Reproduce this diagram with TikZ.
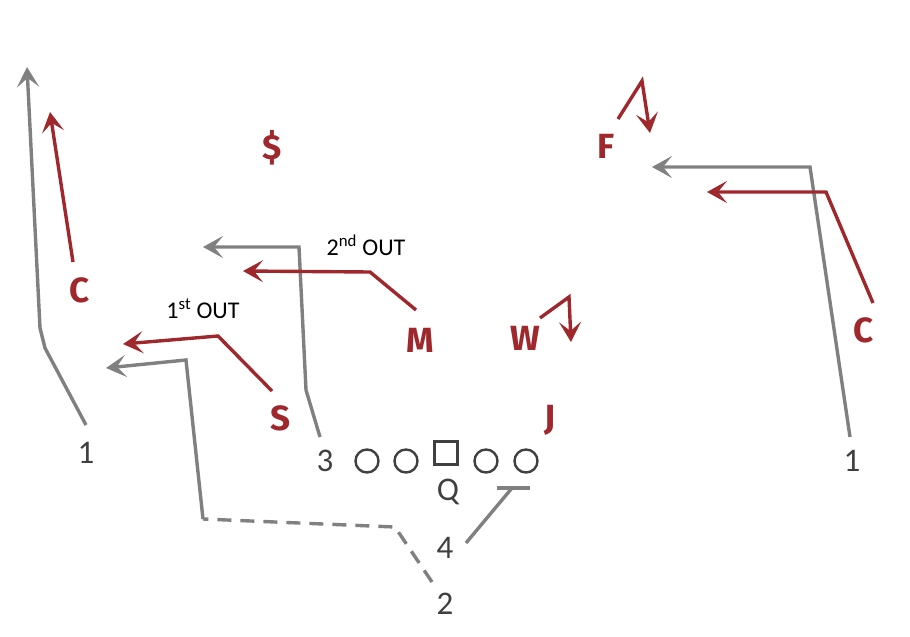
\documentclass[tikz,border=0pt]{standalone}
\usepackage{fontspec}
\setmainfont{Carlito}
\newfontfamily\deffont{Fira Sans}
\usetikzlibrary{arrows.meta}
\definecolor{dred}{RGB}{158,40,44}
\definecolor{lgray}{RGB}{128,128,128}
\definecolor{dtext}{RGB}{64,64,64}
\tikzset{
  route/.style={draw=lgray,line width=3.4pt,line join=miter},
  droute/.style={draw=dred,line width=3.4pt,line join=miter},
  tip/.style={-{Stealth[length=20pt,width=22pt,inset=9pt]}},
  deflab/.style={text=dred,font=\deffont\bfseries\fontsize{35}{35}\selectfont,inner sep=0pt},
  offlab/.style={text=dtext,font=\fontsize{33}{33}\selectfont,inner sep=0pt},
  outlab/.style={text=black,font=\fontsize{24}{24}\selectfont,inner sep=0pt},
  lineman/.style={circle,draw=dtext,line width=2.4pt,minimum size=23pt,inner sep=0pt},
  center/.style={rectangle,draw=dtext,line width=2.4pt,minimum size=23pt,inner sep=0pt}
}
\begin{document}
\begin{tikzpicture}[x=1pt,y=-1pt]
\useasboundingbox (0,0) rectangle (910,637);
% offense labels
\node[offlab] (wr1) at (86,453) {1};
\node[offlab] (wr3) at (325,461) {3};
\node[offlab] (rb2) at (445,604) {2};
\node[offlab] (rb4) at (445,548) {4};
\node[offlab] (q) at (448,492) {Q};
\node[offlab] (wr1r) at (852,461) {1};
% line
\node[lineman] (lt) at (367,461) {};
\node[lineman] (lg) at (406,461) {};
\node[center] (ce) at (446,453) {};
\node[lineman] (rg) at (486,461) {};
\node[lineman] (rt) at (526,461) {};
% defense labels
\node[deflab] (cl) at (80,290) {C};
\node[deflab] (ss) at (272,148) {\$};
\node[deflab] (sl) at (281,418) {S};
\node[deflab] (ml) at (420,340) {M};
\node[deflab] (wl) at (525,338) {W};
\node[deflab] (jl) at (550,420) {J};
\node[deflab] (fl) at (606,146) {F};
\node[deflab] (cr) at (864,330) {C};
% out labels
\node[outlab] (out1) at (203,309) {1\textsuperscript{st} OUT};
\node[outlab] (out2) at (366,245) {2\textsuperscript{nd} OUT};
% coordinates
\coordinate (a1) at (86,425);
\coordinate (a1e) at (27,67);
\coordinate (a3) at (320,437);
\coordinate (a3e) at (203,247);
\coordinate (a2) at (432,582);
\coordinate (a2b) at (203,519);
\coordinate (a2e) at (106,368);
\coordinate (a1r) at (850,437);
\coordinate (a1re) at (652,167);
% offense routes
\draw[route,tip] (a1) -- (45,348) -- (40,328) -- (a1e);
\draw[route,tip] (a3) -- (306,390) -- (299,247) -- (a3e);
\draw[route,dash pattern=on 14pt off 9pt] (a2) -- (395,527) -- (a2b);
\draw[route,tip] (a2b) -- (186,360) -- (a2e);
\draw[route,tip] (a1r) -- (810,167) -- (a1re);
\draw[route] (466,543) -- (512,488);
\draw[route] (497,488) -- (530,488);
% defense routes
\draw[droute,tip] (73,262) -- (50,112);
\draw[droute,tip] (272,391) -- (218,336) -- (123,344);
\draw[droute,tip] (416,310) -- (370,272) -- (243,271);
\draw[droute,tip] (540,318) -- (569,297) -- (571,342);
\draw[droute,tip] (618,119) -- (642,81) -- (650,133);
\draw[droute,tip] (873,303) -- (826,192) -- (707,192);
\end{tikzpicture}
\end{document}
